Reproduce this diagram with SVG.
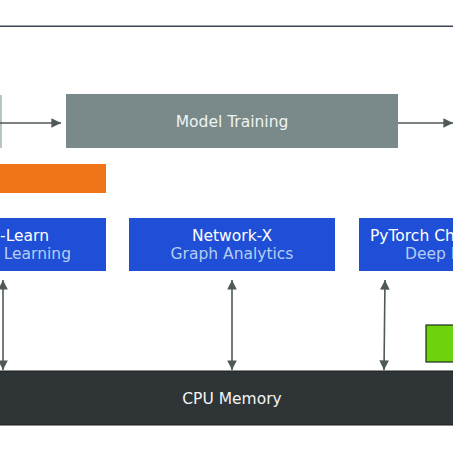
<svg xmlns="http://www.w3.org/2000/svg" width="453" height="453" viewBox="0 0 453 453">
<style>
.lbl{font-family:"DejaVu Sans","Liberation Sans",sans-serif;font-size:15.5px}
.conn{stroke:#4f5959;stroke-width:1.6;fill:none}
.blue{fill:#1f4fd6}
.l1{fill:#ffffff}
.l2{fill:#b4cdf2}
</style>
<defs>
<marker id="ah" viewBox="0 0 10 10" refX="10" refY="5" markerWidth="6" markerHeight="6" orient="auto-start-reverse" markerUnits="strokeWidth">
<path d="M0,0 L10,5 L0,10 z" fill="#4f5959"/>
</marker>
</defs>
<rect x="0" y="0" width="453" height="453" fill="#ffffff"/>
<rect x="0" y="25.5" width="453" height="1.5" fill="#3a4656"/>
<g id="prev-stage"><rect x="-10" y="95" width="12" height="53" fill="#b9c4c4"/></g>
<g id="model-training">
<rect x="66" y="94" width="332" height="54" fill="#7a8a8a"/>
<text class="lbl" x="232" y="127" text-anchor="middle" fill="#eef3f3">Model Training</text>
</g>
<g id="orange-bar"><rect x="0" y="164" width="106" height="29" fill="#f07518"/></g>
<g id="scikit-learn">
<rect x="0" y="218" width="106" height="53" class="blue"/>
<text class="lbl l1" x="49" y="241" text-anchor="end">-Learn</text>
<text class="lbl l2" x="71" y="259" text-anchor="end">Learning</text>
</g>
<g id="network-x">
<rect x="129" y="218" width="206" height="53" class="blue"/>
<text class="lbl l1" x="232" y="241" text-anchor="middle">Network-X</text>
<text class="lbl l2" x="232" y="259" text-anchor="middle">Graph Analytics</text>
</g>
<g id="pytorch">
<rect x="359" y="218" width="100" height="53" class="blue"/>
<text class="lbl l1" x="370" y="241">PyTorch Ch</text>
<text class="lbl l2" x="405" y="259">Deep I</text>
</g>
<g id="green-box"><rect x="426" y="325" width="40" height="37" fill="#6dd30c" stroke="#1e2a1e" stroke-width="1.2"/></g>
<g id="cpu-memory">
<rect x="-2" y="371" width="460" height="54" fill="#2f3536" stroke="#1a1e1f" stroke-width="1"/>
<text class="lbl" x="232" y="404" text-anchor="middle" fill="#f2f4f4">CPU Memory</text>
</g>
<g id="connectors">
<line class="conn" x1="0" y1="123" x2="61" y2="123" marker-end="url(#ah)"/>
<line class="conn" x1="398" y1="123" x2="453" y2="123" marker-end="url(#ah)"/>
<line class="conn" x1="3" y1="280" x2="3" y2="370" marker-start="url(#ah)" marker-end="url(#ah)"/>
<line class="conn" x1="232" y1="280" x2="232" y2="370" marker-start="url(#ah)" marker-end="url(#ah)"/>
<line class="conn" x1="385" y1="280" x2="384" y2="370" marker-start="url(#ah)" marker-end="url(#ah)"/>
</g>
</svg>
